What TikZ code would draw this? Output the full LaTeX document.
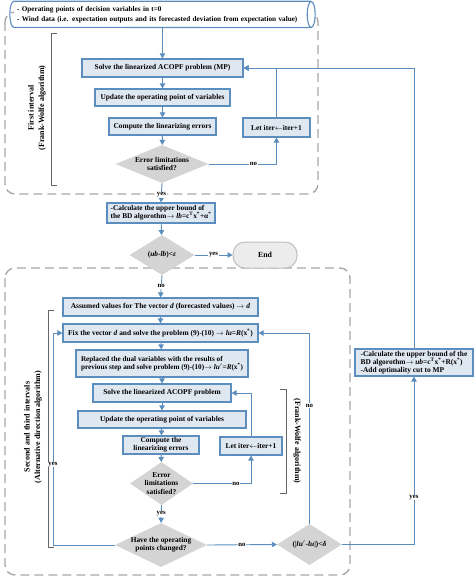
\documentclass[tikz,border=0pt]{standalone}
\usepackage{fontspec}
\setmainfont{Liberation Serif}
\usetikzlibrary{shapes.geometric,arrows.meta,calc}
\definecolor{bl}{HTML}{5B8DBE}
\definecolor{bfill}{HTML}{DFE7F1}
\definecolor{dfill}{HTML}{D4D4D4}
\definecolor{dgray}{HTML}{A8A8A8}
\begin{document}
\begin{tikzpicture}[x=1pt,y=-1pt,
 box/.style={draw=bl, fill=bfill, line width=1.2pt, inner sep=1pt, align=center, font=\bfseries\fontsize{7.4}{8.4}\selectfont},
 lbox/.style={box, align=left, font=\bfseries\fontsize{7.3}{8.4}\selectfont},
 dia/.style={diamond, fill=dfill, inner sep=0pt},
 dtxt/.style={font=\bfseries\fontsize{7.4}{8.4}\selectfont, align=center},
 arr/.style={draw=bl, line width=0.9pt, -{Triangle[length=5pt,width=5.5pt]}},
 lab/.style={font=\bfseries\fontsize{6.8}{7}\selectfont, fill=white, inner sep=0.6pt},
 region/.style={draw=dgray, line width=1.4pt, dash pattern=on 9pt off 5pt, rounded corners=10pt},
 brk/.style={draw=black!60, line width=0.7pt},
 rtxt/.style={font=\bfseries\fontsize{8}{10.5}\selectfont, align=center},
]
\useasboundingbox (0,0) rectangle (474,578);

% regions
\draw[region] (5,12) rectangle (318,194);
\draw[region] (5,268) rectangle (350,575);

% brackets
\draw[brk] (57,33) -- (51,33) -- (51,185) -- (57,185);
\node[rtxt, rotate=90] (t1) at (37,108) {First interval\\(Frank-Wolfe algorithm)};
\draw[brk] (54,310) -- (48,310) -- (48,547) -- (54,547);
\node[rtxt, rotate=90] (t2) at (33,427) {Second and third intervals\\(Alternative direction algorithm)};
\draw[brk] (280,389) -- (286,389) -- (286,493) -- (280,493);
\node[rtxt, rotate=-90] (t3) at (297,441) {(Frank-Wolfe algorithm)};

% top data (horizontal cylinder)
\node[fill=white, minimum width=297pt, minimum height=26pt, inner xsep=2pt, inner ysep=1pt,
      text width=291pt, align=left, font=\bfseries\fontsize{7.2}{9.5}\selectfont] (init) at (162.5,14.5)
 {- Operating points of decision variables in t=0\\- Wind data (i.e. expectation outputs and its forecasted deviation from expectation value)};
\draw[bl, line width=1.1pt] (init.north east) -- (init.north west)
   arc[start angle=90, end angle=270, x radius=4pt, y radius=13pt] -- (init.south east);
\draw[bl, line width=1.1pt, fill=white] (init.east) ellipse [x radius=4pt, y radius=13pt];

% first interval
\node[box, minimum width=161pt, minimum height=18pt] (mp) at (162.5,68) {Solve the linearized ACOPF problem (MP)};
\node[box, minimum width=135pt, minimum height=17pt] (upd1) at (162.5,97.5) {Update the operating point of variables};
\node[box, minimum width=107pt, minimum height=17pt] (cmp1) at (162.5,126.5) {Compute the linearizing errors};
\node[dia, minimum width=93pt, minimum height=38pt, label={[dtxt]center:Error limitations\\satisfied?}] (e1) at (162,164) {};
\node[box, minimum width=67pt, minimum height=19pt] (iter1) at (276.5,127.5) {Let iter$\leftarrow$iter+1};

\node[lbox, minimum width=108pt, minimum height=20pt] (ub1) at (161,213) {-Calculate the upper bound of\\the BD algorothm$\rightarrow$ \textit{lb}=c\textsuperscript{T}x\textsuperscript{*}+α\textsuperscript{*}};
\node[dia, minimum width=65pt, minimum height=40pt, label={[dtxt]center:(\textit{ub}-\textit{lb})<\textit{ε}}] (gap) at (162,255) {};
\node[draw=gray!50, fill=gray!15, line width=1pt, rounded corners=12pt, minimum width=64pt, minimum height=26pt, font=\bfseries\fontsize{7.8}{9}\selectfont] (end) at (265,255) {End};

% second and third intervals
\node[box, minimum width=195pt, minimum height=18pt] (assumed) at (160.5,307) {Assumed values for The vector \textit{d} (forecasted values) $\rightarrow$ \textit{d}};
\node[box, minimum width=195pt, minimum height=18pt] (fix) at (160.5,333) {Fix the vector \textit{d} and solve the problem (9)-(10) $\rightarrow$ \textit{lu}=\textit{R}(x\textsuperscript{*})};
\node[box, minimum width=172pt, minimum height=27pt, align=left, font=\bfseries\fontsize{7.2}{8.4}\selectfont] (repl) at (162,363.5) {Replaced the dual variables with the results of\\previous step and solve problem (9)-(10)$\rightarrow$ \textit{lu}$'$=\textit{R}(x\textsuperscript{*})};
\node[box, minimum width=138pt, minimum height=18pt] (solve2) at (162,393) {Solve the linearized ACOPF problem};
\node[box, minimum width=168pt, minimum height=17pt] (upd2) at (162,419.5) {Update the operating point of variables};
\node[box, minimum width=76pt, minimum height=18pt] (cmp2) at (161,445) {Compute the\\linearizing errors};
\node[box, minimum width=62pt, minimum height=18pt] (iter2) at (251,446) {Let iter$\leftarrow$iter+1};
\node[dia, minimum width=63pt, minimum height=43pt, label={[dtxt]center:Error\\limitations\\satisfied?}] (e2) at (161.5,483.5) {};
\node[dia, minimum width=92pt, minimum height=44pt, label={[dtxt]center:Have the operating\\points changed?}] (chg) at (161,545) {};
\node[dia, minimum width=65pt, minimum height=41pt, label={[dtxt]center:(|\textit{lu}$'$-\textit{lu}|)<\textit{δ}}] (conv) at (309.5,544.5) {};
\node[lbox, minimum width=118pt, minimum height=27pt, font=\bfseries\fontsize{7.4}{8.3}\selectfont] (rb) at (414,362.5) {-Calculate the upper bound of the\\BD algorothm$\rightarrow$ \textit{ub}=c\textsuperscript{T}x\textsuperscript{*}+R(x\textsuperscript{*})\\-Add optimality cut to MP};

% connectors
\draw[arr] (init.south) -- (mp.north);
\draw[arr] (mp) -- (upd1);
\draw[arr] (upd1) -- (cmp1);
\draw[arr] (cmp1) -- (e1);
\draw[arr] (e1.east) -| node[lab,pos=0.33]{no} (iter1.south);
\draw[arr] (iter1.north) |- (mp.east);
\draw[arr] (e1.south) -- node[lab,pos=0.6]{yes} (ub1.north);
\draw[arr] (ub1) -- (gap);
\draw[arr] (gap.east) -- node[lab]{yes} (end.west);
\draw[arr] (gap.south) -- node[lab]{no} (assumed.north);
\draw[arr] (assumed) -- (fix);
\draw[arr] (fix) -- (repl);
\draw[arr] (repl) -- (solve2);
\draw[arr] (solve2) -- (upd2);
\draw[arr] (upd2) -- (cmp2);
\draw[arr] (cmp2) -- (e2);
\draw[arr] (e2.east) -| node[lab,pos=0.37]{no} (iter2.south);
\draw[arr] (iter2.north) |- (solve2.east);
\draw[arr] (e2.south) -- node[lab]{yes} (chg.north);
\coordinate (yl) at (53,545);
\draw[arr] (chg.west) -- (yl) |- node[lab,pos=0.19]{yes} (fix.west);
\draw[arr] (chg.east) -- node[lab]{no} (conv.west);
\draw[arr] (conv.north) |- node[lab,pos=0.31]{no} (fix.east);
\draw[arr] (conv.east) -| node[lab,pos=0.64]{yes} (rb.south);
\draw[arr] (rb.north) |- (mp.east);
\end{tikzpicture}
\end{document}
